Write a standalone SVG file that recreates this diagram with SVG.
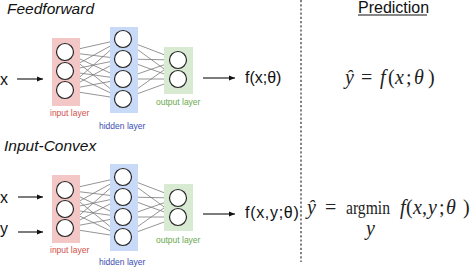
<svg xmlns="http://www.w3.org/2000/svg" width="474" height="268" viewBox="0 0 474 268">
<style>
.bg{fill:#fff}
.in-box{fill:#f4c7c7}
.hid-box{fill:#c9daf8}
.out-box{fill:#d9ead3}
.node{fill:#fff;stroke:#262626;stroke-width:1.2}
.edge{stroke:#7a7a7a;stroke-width:0.8;fill:none;marker-end:url(#sm)}
.arr{stroke:#111;stroke-width:1.1;fill:none;marker-end:url(#big)}
.lbl{font-family:"Liberation Sans",Arial,sans-serif;font-size:8.5px}
.lin{fill:#d0504a}
.lhid{fill:#3b4db0}
.lout{fill:#6aa84f}
.title{font-family:"Liberation Sans",Arial,sans-serif;font-size:15.5px;font-style:italic;fill:#111}
.t{font-family:"Liberation Sans",Arial,sans-serif;font-size:16px;fill:#111}
.m{font-family:"Liberation Serif","Times New Roman",serif;font-size:20px;fill:#222}
.mi{font-style:italic}
</style>
<defs>
<marker id="sm" markerUnits="userSpaceOnUse" markerWidth="5" markerHeight="4" refX="4.5" refY="2" orient="auto"><path d="M0,0 L4.5,2 L0,4 z" fill="#333"/></marker>
<marker id="big" markerUnits="userSpaceOnUse" markerWidth="7" markerHeight="6" refX="6" refY="3" orient="auto"><path d="M0,0.5 L6,3 L0,5.5 z" fill="#111"/></marker>
</defs>
<rect class="bg" x="0" y="0" width="474" height="268"/>

<!-- Feedforward -->
<text class="title" x="7" y="13.5">Feedforward</text>
<text class="t" x="0" y="85">x</text>

<g id="ff-edges">
<line class="edge" x1="73.29" y1="50.14" x2="114.71" y2="40.86"/>
<line class="edge" x1="73.44" y1="53.02" x2="114.56" y2="57.98"/>
<line class="edge" x1="72.71" y1="55.59" x2="115.29" y2="75.41"/>
<line class="edge" x1="71.60" y1="57.35" x2="116.40" y2="93.65"/>
<line class="edge" x1="72.44" y1="66.89" x2="115.56" y2="43.11"/>
<line class="edge" x1="73.32" y1="69.28" x2="114.68" y2="60.72"/>
<line class="edge" x1="73.42" y1="72.16" x2="114.58" y2="77.84"/>
<line class="edge" x1="72.65" y1="74.70" x2="115.35" y2="95.30"/>
<line class="edge" x1="71.38" y1="84.39" x2="116.62" y2="44.61"/>
<line class="edge" x1="72.50" y1="85.99" x2="115.50" y2="63.01"/>
<line class="edge" x1="73.35" y1="88.42" x2="114.65" y2="80.58"/>
<line class="edge" x1="73.40" y1="91.30" x2="114.60" y2="97.70"/>
<line class="edge" x1="130.94" y1="42.03" x2="170.06" y2="56.97"/>
<line class="edge" x1="129.87" y1="44.00" x2="171.13" y2="74.00"/>
<line class="edge" x1="131.5" y1="59.15" x2="169.5" y2="59.85"/>
<line class="edge" x1="130.99" y1="61.91" x2="170.01" y2="76.09"/>
<line class="edge" x1="131.03" y1="76.22" x2="169.97" y2="62.78"/>
<line class="edge" x1="131.5" y1="79" x2="169.5" y2="79"/>
<line class="edge" x1="129.93" y1="94.08" x2="171.07" y2="64.92"/>
<line class="edge" x1="130.99" y1="96.09" x2="170.01" y2="81.91"/>
<line class="arr" x1="17" y1="79" x2="43" y2="79"/>
<line class="arr" x1="203" y1="78" x2="235" y2="78"/>
</g>

<g id="ff-input">
<rect class="in-box" x="52" y="38" width="28" height="68"/>
<circle class="node" cx="65" cy="52" r="8.5"/>
<circle class="node" cx="65" cy="71" r="8.5"/>
<circle class="node" cx="65" cy="90" r="8.5"/>
<text class="lbl lin" x="50" y="116">input layer</text>
</g>
<g id="ff-hidden">
<rect class="hid-box" x="110" y="27" width="28" height="86"/>
<circle class="node" cx="123" cy="39" r="8.5"/>
<circle class="node" cx="123" cy="59" r="8.5"/>
<circle class="node" cx="123" cy="79" r="8.5"/>
<circle class="node" cx="123" cy="99" r="8.5"/>
<text class="lbl lhid" x="99" y="129">hidden layer</text>
</g>
<g id="ff-output">
<rect class="out-box" x="164" y="47" width="29" height="47"/>
<circle class="node" cx="178" cy="60" r="8.5"/>
<circle class="node" cx="178" cy="79" r="8.5"/>
<text class="lbl lout" x="156" y="105">output layer</text>
</g>
<g id="ff-out-label"><text class="t" x="245" y="83">f(x;θ)</text></g>

<!-- Input-Convex -->
<text class="title" x="4" y="151">Input-Convex</text>
<text class="t" x="0" y="203">x</text>
<text class="t" x="0" y="234">y</text>

<g id="ic-edges">
<g transform="translate(0,138)">
<line class="edge" x1="73.29" y1="50.14" x2="114.71" y2="40.86"/>
<line class="edge" x1="73.44" y1="53.02" x2="114.56" y2="57.98"/>
<line class="edge" x1="72.71" y1="55.59" x2="115.29" y2="75.41"/>
<line class="edge" x1="71.60" y1="57.35" x2="116.40" y2="93.65"/>
<line class="edge" x1="72.44" y1="66.89" x2="115.56" y2="43.11"/>
<line class="edge" x1="73.32" y1="69.28" x2="114.68" y2="60.72"/>
<line class="edge" x1="73.42" y1="72.16" x2="114.58" y2="77.84"/>
<line class="edge" x1="72.65" y1="74.70" x2="115.35" y2="95.30"/>
<line class="edge" x1="71.38" y1="84.39" x2="116.62" y2="44.61"/>
<line class="edge" x1="72.50" y1="85.99" x2="115.50" y2="63.01"/>
<line class="edge" x1="73.35" y1="88.42" x2="114.65" y2="80.58"/>
<line class="edge" x1="73.40" y1="91.30" x2="114.60" y2="97.70"/>
<line class="edge" x1="130.94" y1="42.03" x2="170.06" y2="56.97"/>
<line class="edge" x1="129.87" y1="44.00" x2="171.13" y2="74.00"/>
<line class="edge" x1="131.5" y1="59.15" x2="169.5" y2="59.85"/>
<line class="edge" x1="130.99" y1="61.91" x2="170.01" y2="76.09"/>
<line class="edge" x1="131.03" y1="76.22" x2="169.97" y2="62.78"/>
<line class="edge" x1="131.5" y1="79" x2="169.5" y2="79"/>
<line class="edge" x1="129.93" y1="94.08" x2="171.07" y2="64.92"/>
<line class="edge" x1="130.99" y1="96.09" x2="170.01" y2="81.91"/>
</g>
<line class="arr" x1="18" y1="197" x2="43" y2="197"/>
<line class="arr" x1="18" y1="232" x2="43" y2="232"/>
<line class="arr" x1="203" y1="214" x2="235" y2="214"/>
</g>

<g id="ic-input" transform="translate(0,138)">
<rect class="in-box" x="52" y="37" width="28" height="68"/>
<circle class="node" cx="65" cy="52" r="8.5"/>
<circle class="node" cx="65" cy="71" r="8.5"/>
<circle class="node" cx="65" cy="90" r="8.5"/>
<text class="lbl lin" x="50" y="115">input layer</text>
</g>
<g id="ic-hidden" transform="translate(0,138)">
<rect class="hid-box" x="110" y="26" width="28" height="87"/>
<circle class="node" cx="123" cy="39" r="8.5"/>
<circle class="node" cx="123" cy="59" r="8.5"/>
<circle class="node" cx="123" cy="79" r="8.5"/>
<circle class="node" cx="123" cy="99" r="8.5"/>
<text class="lbl lhid" x="99" y="127">hidden layer</text>
</g>
<g id="ic-output" transform="translate(0,138)">
<rect class="out-box" x="164" y="46" width="29" height="47"/>
<circle class="node" cx="178" cy="60" r="8.5"/>
<circle class="node" cx="178" cy="79" r="8.5"/>
<text class="lbl lout" x="156" y="105">output layer</text>
</g>
<g id="ic-out-label"><text class="t" x="245" y="218" letter-spacing="0.7">f(x,y;θ)</text></g>

<!-- divider and prediction column -->
<line x1="301" y1="0" x2="301" y2="262" stroke="#333" stroke-width="1.2" stroke-dasharray="2.2,2"/>
<g id="prediction-title">
<text class="t" x="358" y="13" font-size="15.5px">Prediction</text>
<line x1="358" y1="15" x2="427" y2="15" stroke="#111" stroke-width="1"/>
</g>
<g id="pred-ff">
<text class="m"><tspan class="mi" x="345" y="84">ŷ</tspan><tspan x="361" y="84">=</tspan><tspan class="mi" x="380" y="84">f</tspan><tspan x="388" y="84">(</tspan><tspan class="mi" x="395" y="84">x</tspan><tspan x="406" y="84">;</tspan><tspan class="mi" x="414" y="84">θ</tspan><tspan x="428" y="84">)</tspan></text>
</g>
<g id="pred-ic">
<text class="m"><tspan class="mi" x="307" y="214">ŷ</tspan><tspan x="325" y="214">=</tspan><tspan x="346" y="214" font-size="19px" textLength="44" lengthAdjust="spacingAndGlyphs">argmin</tspan><tspan class="mi" x="400" y="214">f</tspan><tspan x="406" y="214">(</tspan><tspan class="mi" x="413" y="214">x</tspan><tspan x="422" y="214">,</tspan><tspan class="mi" x="428" y="214">y</tspan><tspan x="439" y="214">;</tspan><tspan class="mi" x="446" y="214">θ</tspan><tspan x="463" y="214">)</tspan></text>
<text class="m mi" x="366" y="235" font-size="12px">y</text>
</g>
</svg>
